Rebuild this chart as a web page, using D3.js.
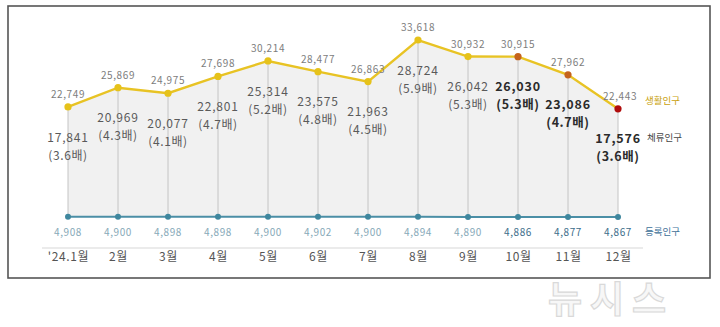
<!DOCTYPE html>
<html><head><meta charset="utf-8">
<script src="https://cdn.jsdelivr.net/npm/d3@7"></script>
<style>
body{margin:0;background:#fff;}
svg{display:block;font-family:"Noto Sans CJK KR","Noto Sans",sans-serif;}
</style></head>
<body><svg id="chart" width="720" height="327"></svg>
<script>
// Monthly population figures, 2024
const months = ["'24.1월","2월","3월","4월","5월","6월","7월","8월","9월","10월","11월","12월"];
const living = [22749,25869,24975,27698,30214,28477,26863,33618,30932,30915,27962,22443];   // 생활인구
const staying = [17841,20969,20077,22801,25314,23575,21963,28724,26042,26030,23086,17576];  // 체류인구
const ratio = [3.6,4.3,4.1,4.7,5.2,4.8,4.5,5.9,5.3,5.3,4.7,3.6];                              // 배
const registered = [4908,4900,4898,4898,4900,4902,4900,4894,4890,4886,4877,4867];            // 등록인구
const highlight = [false,false,false,false,false,false,false,false,false,true,true,true];
const livingDotColors = ["#e6c21a","#e6c21a","#e6c21a","#e6c21a","#e6c21a","#e6c21a","#e6c21a","#e6c21a","#e6c21a","#c5631c","#c5631c","#b00c0c"];

const svg = d3.select("#chart");
const fmt = d3.format(",");

const x = d3.scalePoint().domain(months).range([68, 618]);
const y = d3.scaleLinear().domain([0, 35000]).range([247, 31.5]);

// agency mark (drawn first so everything else sits above it)
svg.append("text").attr("x",548).attr("y",313).attr("font-size",37).attr("font-weight","bold")
  .attr("letter-spacing",8).attr("fill","#f7f7f7").attr("stroke","#d9d9d9").attr("stroke-width",1.2)
  .text("뉴시스");

// frame
svg.append("rect").attr("x",8).attr("y",6).attr("width",702).attr("height",272)
  .attr("fill","none").attr("stroke","#555").attr("stroke-width",1.6);

// shaded band between living and registered lines
const area = d3.area()
  .x((d,i)=>x(months[i]))
  .y0((d,i)=>y(registered[i]))
  .y1(d=>y(d));
svg.append("path").datum(living).attr("d",area).attr("fill","#f1f1f1");

// drop lines
svg.append("g").selectAll("line").data(living).join("line")
  .attr("x1",(d,i)=>x(months[i])).attr("x2",(d,i)=>x(months[i]))
  .attr("y1",d=>y(d)).attr("y2",(d,i)=>y(registered[i]))
  .attr("stroke","#c4c4c4").attr("stroke-width",1);

// living population line
const line = d3.line().x((d,i)=>x(months[i])).y(d=>y(d));
svg.append("path").datum(living).attr("d",line)
  .attr("fill","none").attr("stroke","#e8c324").attr("stroke-width",2.4);
svg.append("g").selectAll("circle").data(living).join("circle")
  .attr("cx",(d,i)=>x(months[i])).attr("cy",d=>y(d)).attr("r",3.6)
  .attr("fill",(d,i)=>livingDotColors[i]);

// registered population line
svg.append("path").datum(registered).attr("d",line)
  .attr("fill","none").attr("stroke","#4b8fa6").attr("stroke-width",2);
svg.append("g").selectAll("circle").data(registered).join("circle")
  .attr("cx",(d,i)=>x(months[i])).attr("cy",d=>y(d)).attr("r",3)
  .attr("fill","#3f879e");

// living value labels
svg.append("g").selectAll("text").data(living).join("text")
  .attr("x",(d,i)=>x(months[i])+ (i===11?2:0)).attr("y",d=>y(d)-9)
  .attr("text-anchor","middle").attr("font-size",10).attr("letter-spacing",0.6)
  .attr("fill","#7d7d7d").text(d=>fmt(d));

// staying value labels, set at their own value height
const st = svg.append("g").selectAll("g").data(staying).join("g")
  .attr("transform",(d,i)=>`translate(${x(months[i])},${y(d)})`);
st.append("text").attr("y",4.5).attr("text-anchor","middle")
  .attr("font-size",(d,i)=>highlight[i]?12.5:12).attr("letter-spacing",0.8)
  .attr("font-weight",(d,i)=>highlight[i]?"bold":"normal")
  .attr("fill",(d,i)=>highlight[i]?"#2b2b2b":"#5a5a5a").text(d=>fmt(d));
st.append("text").attr("y",22.5).attr("text-anchor","middle")
  .attr("font-size",(d,i)=>highlight[i]?12.5:12).attr("letter-spacing",0.6)
  .attr("font-weight",(d,i)=>highlight[i]?"bold":"normal")
  .attr("fill",(d,i)=>highlight[i]?"#2b2b2b":"#5a5a5a").text((d,i)=>`(${ratio[i]}배)`);

// registered value labels
svg.append("g").selectAll("text").data(registered).join("text")
  .attr("x",(d,i)=>x(months[i])).attr("y",236)
  .attr("text-anchor","middle").attr("font-size",10).attr("letter-spacing",0.6)
  .attr("fill",(d,i)=>highlight[i]?"#3c6d8a":"#86a9b8").text(d=>fmt(d));

// category axis
svg.append("line").attr("x1",42).attr("x2",643).attr("y1",248).attr("y2",248)
  .attr("stroke","#e4e4e4").attr("stroke-width",1.5);
const xAxis = svg.append("g").attr("transform","translate(0,250)")
  .call(d3.axisBottom(x).tickSize(0).tickPadding(0));
xAxis.select(".domain").remove();
xAxis.selectAll("text").attr("font-size",12).attr("letter-spacing",0.6)
  .attr("fill","#555").attr("dy","0.95em").style("font-family","\"Noto Sans CJK KR\",sans-serif");

// series names
svg.append("text").attr("x",645).attr("y",104).attr("font-size",9.5).attr("fill","#c9a10c").text("생활인구");
svg.append("text").attr("x",647).attr("y",141).attr("font-size",9.5).attr("fill","#444").text("체류인구");
svg.append("text").attr("x",645).attr("y",235).attr("font-size",9.5).attr("fill","#3d6f98").text("등록인구");
</script></body></html>
